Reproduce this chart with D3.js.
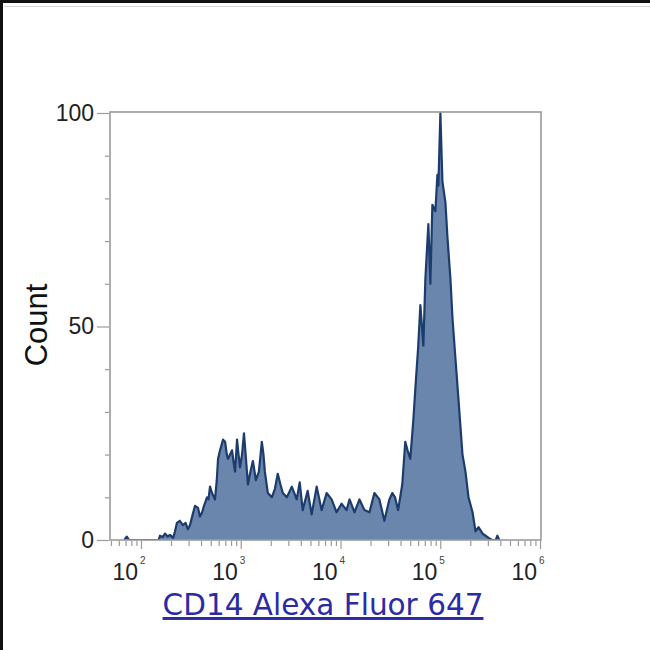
<!DOCTYPE html>
<html>
<head>
<meta charset="utf-8">
<script src="https://cdn.jsdelivr.net/npm/d3@7"></script>
<style>
  html, body { margin: 0; padding: 0; background: #fff; }
  svg { display: block; }
</style>
</head>
<body>
<svg id="chart" width="650" height="650"></svg>
<script>
// ---- data ----
const fluorescence = [55,68,72,76,150,155,165,174,185,195,210,219,229,245,263,280,295,310,330,348,373,390,410,428,459,475,492,515,552,575,592,620,665,697,725,747,818,850,877,918,950,984,1030,1077,1120,1180,1250,1323,1418,1520,1627,1690,1744,1869,2050,2200,2350,2500,2640,2900,3250,3640,3900,4180,4690,5140,5770,6470,7260,8140,9130,10240,11490,12320,13820,15500,17390,19500,21880,24540,27530,30890,33100,35200,37800,41600,44600,47000,50100,53700,56300,60000,63200,67700,70900,76000,79600,83400,89400,93600,95800,100300,105100,112700,118000,126600,132600,142000,152200,167100,179000,191900,210700,225800,242000,265600,284700,305100,330000,360000,374000,390000,420000];
const count = [0,0,0.8,0,0,1,0.7,1.5,0.8,1.2,0.5,2,4,4.5,3.5,4,2.5,3.5,6,8,7.5,5.5,6.5,8,10,9.5,12.5,11,9.5,14,19,21,23.5,23,20,19,21,18,16,23.5,20,17,20,25,20,13,16,18.5,14,16,23,20,16,11,10,12,15.5,13,11,10,12.5,9.5,13.5,7,11.5,6,12.5,7,11,9.5,6.5,8.5,7,9.5,6.5,9.5,7,6.5,11,9.5,4.5,9.5,11,10,7,13,23,21,19,28,35.5,45,55,45.5,61,74,60,78.5,77,85.5,83,100,84,79,71,61,52,42.5,33,20,16,10,6.5,2,3,1.5,1,0.5,0,0,1,0,0];
const xMajorTicks = [1e2, 1e3, 1e4, 1e5, 1e6];
const xMajorExponents = ["2", "3", "4", "5", "6"];
const yMajorTicks = [0, 50, 100];
const yTickLabels = ["0", "50", "100"];
const xTitle = "CD14 Alexa Fluor 647";
const yTitle = "Count";

// ---- layout ----
const frame = {left: 110, right: 541, top: 112, bottom: 540};
const svg = d3.select("#chart");

const x = d3.scaleLog().domain([1e2, 1e6]).range([141, 540]);
const y = d3.scaleLinear().domain([0, 100]).range([540, 113]);

// outer image border
svg.append("rect").attr("x", 0).attr("y", 0).attr("width", 650).attr("height", 3).attr("fill", "#111");
svg.append("rect").attr("x", 0).attr("y", 0).attr("width", 3).attr("height", 650).attr("fill", "#111");
svg.append("line").attr("x1", 4).attr("x2", 650).attr("y1", 6.5).attr("y2", 6.5)
  .attr("stroke", "#d8d8d8").attr("stroke-width", 1);

const data = fluorescence.map((v, i) => ({v, c: count[i]}));

// clip to frame
svg.append("clipPath").attr("id", "plotclip").append("rect")
  .attr("x", frame.left).attr("y", frame.top - 2)
  .attr("width", frame.right - frame.left).attr("height", frame.bottom - frame.top + 2);

const g = svg.append("g").attr("clip-path", "url(#plotclip)");

const area = d3.area()
  .x(d => x(d.v)).y0(y(0)).y1(d => y(d.c))
  .curve(d3.curveLinear);
g.append("path").datum(data).attr("d", area).attr("fill", "#6b86ac");

const line = d3.line()
  .defined((d, i) => d.c > 0 || (i > 0 && data[i-1].c > 0) || (i < data.length-1 && data[i+1].c > 0))
  .x(d => x(d.v)).y(d => y(d.c))
  .curve(d3.curveLinear);
g.append("path").datum(data).attr("d", line)
  .attr("fill", "none").attr("stroke", "#1d3c6e").attr("stroke-width", 2.2)
  .attr("stroke-linejoin", "round");

// frame
svg.append("rect")
  .attr("x", frame.left).attr("y", frame.top)
  .attr("width", frame.right - frame.left).attr("height", frame.bottom - frame.top)
  .attr("fill", "none").attr("stroke", "#9a9a9a").attr("stroke-width", 1.6);

// ---- x axis ticks ----
const xMinor = [];
[10, 100, 1000, 10000, 100000].forEach(dec => {
  for (let k = 2; k <= 9; k++) {
    const v = dec * k;
    if (x(v) >= frame.left && x(v) <= frame.right) xMinor.push(v);
  }
});
const xAxisMinor = d3.axisBottom(x).tickValues(xMinor).tickSize(5).tickFormat("");
const xAxisMajor = d3.axisBottom(x).tickValues(xMajorTicks).tickSize(8).tickFormat("");
[xAxisMinor, xAxisMajor].forEach(ax => {
  const a = svg.append("g").attr("transform", `translate(0,${frame.bottom + 1})`).call(ax);
  a.select(".domain").remove();
  a.selectAll("line").attr("stroke", "#9a9a9a").attr("stroke-width", 1.2);
});

const xl = svg.append("g");
xMajorTicks.forEach((v, i) => {
  xl.append("text")
    .attr("x", x(v) - 3).attr("y", 580)
    .attr("text-anchor", "end")
    .attr("font-family", "'Liberation Sans', Arial, sans-serif")
    .attr("font-size", 23).attr("fill", "#222")
    .text("10");
  xl.append("text")
    .attr("x", x(v) - 1).attr("y", 564)
    .attr("font-family", "'Liberation Sans', Arial, sans-serif")
    .attr("font-size", 10).attr("fill", "#444")
    .text(xMajorExponents[i]);
});

// ---- y axis ticks ----
const yMinor = d3.range(0, 101, 10).filter(v => !yMajorTicks.includes(v));
const yAxisMinor = d3.axisLeft(y).tickValues(yMinor).tickSize(4).tickFormat("");
const yAxisMajor = d3.axisLeft(y).tickValues(yMajorTicks).tickSize(12)
  .tickFormat((d, i) => yTickLabels[i]).tickPadding(3);
[yAxisMinor, yAxisMajor].forEach(ax => {
  const a = svg.append("g").attr("transform", `translate(${frame.left - 1},0)`).call(ax);
  a.select(".domain").remove();
  a.selectAll("line").attr("stroke", "#9a9a9a").attr("stroke-width", 1.2);
  a.selectAll("text")
    .attr("font-family", "'Liberation Sans', Arial, sans-serif")
    .attr("font-size", 23).attr("fill", "#222");
});

// ---- titles ----
svg.append("text")
  .attr("x", 323).attr("y", 615)
  .attr("text-anchor", "middle")
  .attr("font-family", "'DejaVu Sans', Verdana, sans-serif")
  .attr("font-size", 29.5).attr("fill", "#2b2ba6")
  .attr("text-decoration", "underline")
  .text(xTitle);

svg.append("text")
  .attr("transform", "translate(47,325) rotate(-90)")
  .attr("text-anchor", "middle")
  .attr("font-family", "'Liberation Sans', Arial, sans-serif")
  .attr("font-size", 31).attr("fill", "#111")
  .text(yTitle);
</script>
</body>
</html>
